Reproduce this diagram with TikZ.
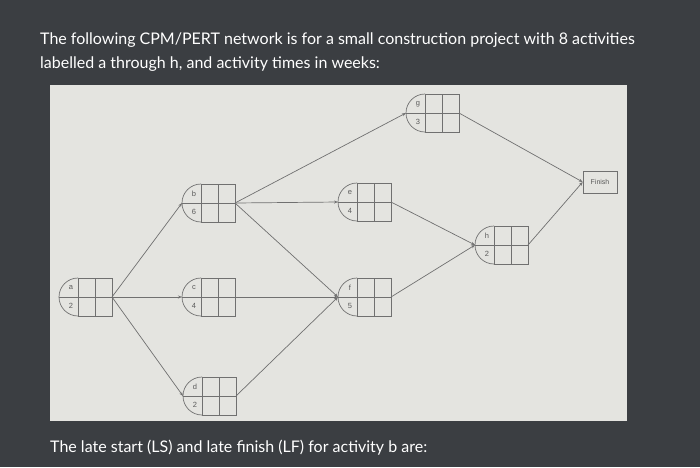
\documentclass[tikz,border=0pt]{standalone}
\usepackage{fontspec}
\setmainfont{Lato}
\setsansfont{Liberation Sans}
\usetikzlibrary{arrows.meta}
\definecolor{bgdark}{HTML}{3B3E42}
\definecolor{panel}{HTML}{E4E4E0}
\definecolor{ln}{HTML}{707070}
\tikzset{
  conn/.style={draw=ln, line width=0.7pt, -{Stealth[length=4pt,width=3pt]}},
  lab/.style={font=\sffamily\fontsize{7.5}{8}\selectfont, text=ln!80!black, inner sep=0pt},
  shp/.style={draw=ln, line width=0.7pt},
  head/.style={font=\fontsize{16}{19}\selectfont, text=white, anchor=base west, inner sep=0pt}
}
\newcommand{\actbox}[5]{% name, xleft, cy, letter, dur
  \begin{scope}
    \clip (#2-1,#3-20) rectangle (#2+19,#3+20);
    \draw[shp] (#2+19,#3) circle[radius=19pt];
  \end{scope}
  \draw[shp] (#2+19,#3-19) -- (#2+53,#3-19) -- (#2+53,#3+19) -- (#2+19,#3+19) -- cycle;
  \draw[shp] (#2,#3) -- (#2+53,#3);
  \draw[shp] (#2+36,#3-19) -- (#2+36,#3+19);
  \node[lab] (#1l) at (#2+12,#3-9) {#4};
  \node[lab] (#1d) at (#2+12,#3+9) {#5};
  \coordinate (#1w) at (#2,#3);
  \coordinate (#1e) at (#2+53,#3);
}
\begin{document}
\begin{tikzpicture}[x=1pt,y=-1pt]
\fill[bgdark] (0,0) rectangle (700,467);
\useasboundingbox (0,0) rectangle (700,467);
\fill[panel] (50,85) rectangle (627,421);
\node[head] (t1) at (40,44) {The following CPM/PERT network is for a small construction project with 8 activities};
\node[head] (t2) at (40,68) {labelled a through h, and activity times in weeks:};
\node[head] (t3) at (50,452) {The late start (LS) and late finish (LF) for activity b are:};
\actbox{a}{59}{297}{a}{2}
\actbox{b}{182}{203}{b}{6}
\actbox{c}{182}{297}{c}{4}
\actbox{d}{183}{396}{d}{2}
\actbox{e}{338}{202}{e}{4}
\actbox{f}{338}{297}{f}{5}
\actbox{g}{406}{113}{g}{3}
\actbox{h}{475}{245}{h}{2}
\node[draw=ln, line width=0.6pt, minimum width=34pt, minimum height=22pt, inner sep=0pt, font=\sffamily\fontsize{7}{8}\selectfont, text=ln!80!black] (fin) at (600,182) {Finish};
\draw[conn] (ae) -- (bw);
\draw[conn] (ae) -- (cw);
\draw[conn] (ae) -- (dw);
\draw[conn] (be) -- (gw);
\draw[conn] (be) -- (ew);
\draw[conn] (be) -- (fw);
\draw[conn] (ce) -- (fw);
\draw[conn] (de) -- (fw);
\draw[conn] (ee) -- (hw);
\draw[conn] (fe) -- (hw);
\draw[conn] (ge) -- (fin.west);
\draw[conn] (he) -- (fin.west);
\end{tikzpicture}
\end{document}
